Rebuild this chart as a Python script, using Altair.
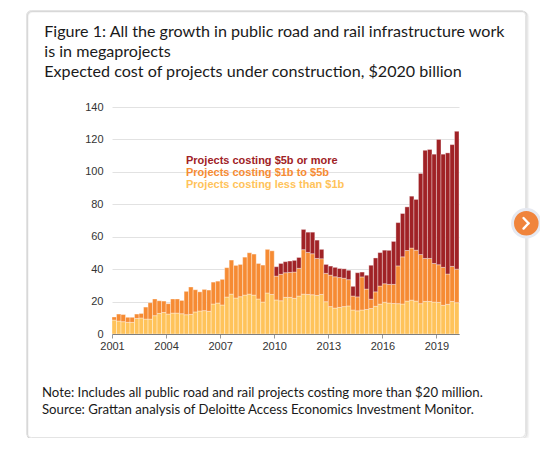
import pandas as pd
import altair as alt

# quarterly, 2001 Q1 .. 2020 Q1
quarters = [2001 + q / 4 for q in range(77)]

names = ["Projects costing less than $1b", "Projects costing $1b to $5b", "Projects costing $5b or more"]
colors = ["#FFC35A", "#F68B33", "#A02226"]

under_1b = [8.6, 8.0, 7.6, 7.2, 7.2, 9.6, 9.9, 9.2, 9.2, 11.3, 12.7, 13.3,
            12.3, 12.9, 12.9, 12.5, 11.9, 12.1, 13.6, 14.2, 14.4, 14.0, 18.5, 19.1,
            17.9, 22.8, 24.6, 22.2, 23.0, 24.0, 24.6, 24.0, 21.6, 19.7, 25.3, 24.4,
            21.0, 20.5, 22.6, 22.6, 22.0, 23.4, 24.6, 24.4, 24.2, 23.8, 24.4, 19.9,
            16.9, 16.0, 16.4, 16.9, 17.3, 14.8, 14.3, 14.8, 15.1, 15.7, 17.1, 18.4,
            19.6, 19.1, 18.8, 18.7, 18.5, 20.3, 20.9, 20.3, 18.7, 20.1, 20.1, 19.7,
            19.5, 17.7, 18.3, 20.1, 19.3]
from_1b_to_5b = [1.9, 4.3, 4.4, 3.1, 3.1, 2.7, 2.8, 7.4, 10.1, 10.3, 7.8, 7.0,
                 6.4, 8.7, 8.7, 8.2, 14.4, 16.9, 13.7, 11.8, 13.1, 13.1, 13.5, 13.5,
                 15.8, 18.1, 21.0, 20.1, 19.9, 23.4, 25.5, 25.3, 21.9, 22.8, 26.9, 26.9,
                 14.7, 16.3, 15.2, 15.4, 16.2, 17.1, 27.4, 25.9, 25.3, 22.8, 22.0, 17.5,
                 19.4, 19.3, 18.4, 17.5, 16.2, 8.6, 8.6, 20.4, 12.6, 5.8, 8.9, 11.2,
                 11.4, 11.5, 11.8, 23.3, 29.1, 31.2, 32.1, 31.4, 30.3, 26.5, 26.5, 23.8,
                 23.2, 23.4, 18.7, 21.6, 20.7]
over_5b = [0] * 36 + [5.8, 6.7, 6.8, 7.0, 7.2, 6.7, 12.5, 12.5, 13.3, 11.3, 5.8, 5.5,
                      5.6, 5.8, 5.6, 5.8, 5.8, 6.0, 14.9, 3.0, 8.6, 20.9, 20.9, 20.6,
                      20.7, 21.0, 26.5, 26.7, 26.7, 26.9, 32.0, 31.3, 50.0, 66.7, 67.2, 67.4,
                      77.3, 69.8, 74.7, 75.1, 85.0]

title_lines = ["Figure 1: All the growth in public road and rail infrastructure work",
               "is in megaprojects",
               "Expected cost of projects under construction, $2020 billion"]
note_lines = ["Note: Includes all public road and rail projects costing more than $20 million.",
              "Source: Grattan analysis of Deloitte Access Economics Investment Monitor."]

# stack the three groups by hand
rows = []
for i, q in enumerate(quarters):
    base = 0.0
    for k, vals in enumerate([under_1b, from_1b_to_5b, over_5b]):
        rows.append({"start": q, "end": q + 0.25, "group": names[k],
                     "y0": base, "y1": base + vals[i]})
        base += vals[i]
df = pd.DataFrame(rows)
df = df[df["y1"] > df["y0"]]

one = pd.DataFrame({"a": [0]})

bars = alt.Chart(df).mark_rect(stroke="white", strokeWidth=0.5, strokeOpacity=0.7).encode(
    x=alt.X("start:Q", scale=alt.Scale(domain=[2001, 2020.25], nice=False, zero=False),
            axis=alt.Axis(values=list(range(2001, 2020, 3)), format="d", title=None, grid=False,
                          labelFlush=False, domainColor="#666", tickColor="#999", tickSize=4,
                          labelPadding=2)),
    x2="end:Q",
    y=alt.Y("y0:Q", scale=alt.Scale(domain=[0, 140], nice=False),
            axis=alt.Axis(values=list(range(0, 141, 20)), title=None, domain=False, ticks=False,
                          labelFlush=False, labelPadding=9, gridColor="#e2e2e2")),
    y2="y1:Q",
    color=alt.Color("group:N", scale=alt.Scale(domain=names, range=colors), legend=None),
)

legend_layers = []
for k, yy in zip([2, 1, 0], [53.5, 65.5, 77.5]):
    legend_layers.append(
        alt.Chart(one).mark_text(align="left", baseline="middle", font="Liberation Sans",
                                 fontSize=11, fontWeight="bold", color=colors[k]).encode(
            x=alt.value(74), y=alt.value(yy), text=alt.value(names[k]))
    )

# card outline and soft shadow
card_layers = []
for off, op in [(3, 0.03), (2, 0.06), (1, 0.1)]:
    card_layers.append(
        alt.Chart(one).mark_rect(fillOpacity=0, stroke="#000", strokeOpacity=op, strokeWidth=1.5,
                                 cornerRadius=5).encode(
            x=alt.value(-85.5 + off / 2), x2=alt.value(413.5 + off), y=alt.value(-96.5 + off / 2),
            y2=alt.value(330.5 + off))
    )
card_layers.append(
    alt.Chart(one).mark_rect(fillOpacity=0, stroke="#e4e4e4", strokeWidth=1, cornerRadius=5).encode(
        x=alt.value(-85.5), x2=alt.value(413.5), y=alt.value(-96.5), y2=alt.value(330.5))
)

title = alt.Chart(one).mark_text(align="left", baseline="alphabetic", font="Lato", fontSize=16.1,
                                 color="#1a1a1a", lineBreak="\n", lineHeight=20).encode(
    x=alt.value(-67.7), y=alt.value(-70.5), text=alt.value("\n".join(title_lines)))

note = alt.Chart(one).mark_text(align="left", baseline="alphabetic", font="Lato", fontSize=13.2,
                                color="#1a1a1a", lineBreak="\n", lineHeight=16.7).encode(
    x=alt.value(-70), y=alt.value(290), text=alt.value("\n".join(note_lines)))

button = alt.Chart(one).mark_point(filled=True, fill="#F0843C", stroke="#e6e9f1", strokeWidth=3,
                                   opacity=1, shape="circle", size=760).encode(
    x=alt.value(414.3), y=alt.value(116.3))
chevron = [
    alt.Chart(one).mark_rule(color="white", strokeWidth=2.4, strokeCap="round").encode(
        x=alt.value(411.5), y=alt.value(111), x2=alt.value(416.5), y2=alt.value(116.3)),
    alt.Chart(one).mark_rule(color="white", strokeWidth=2.4, strokeCap="round").encode(
        x=alt.value(416.5), y=alt.value(116.3), x2=alt.value(411.5), y2=alt.value(121.6)),
]

chart = alt.layer(*card_layers, bars, *legend_layers, title, note, button, *chevron).properties(
    width=347, height=227,
    padding={"left": 104, "top": 99, "right": 81, "bottom": 104},
    autosize=alt.AutoSizeParams(type="none"),
    background="white",
).configure_view(stroke=None).configure_axis(
    labelFont="Liberation Sans", labelFontSize=11, labelColor="#333"
)

chart.save("out.html", embed_options={"renderer": "svg", "actions": False})
